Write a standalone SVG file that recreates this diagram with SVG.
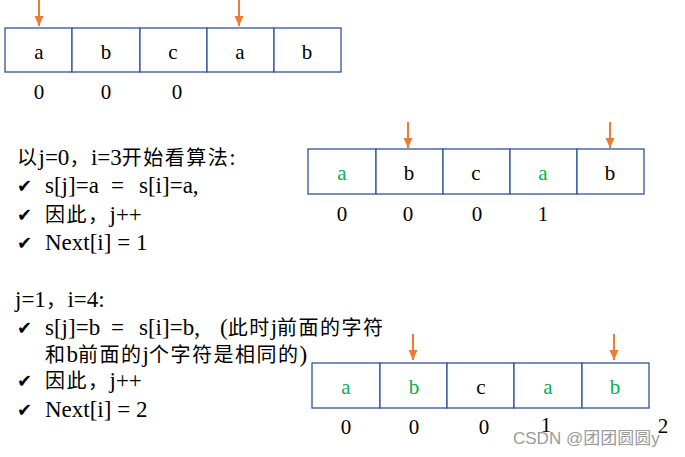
<svg xmlns="http://www.w3.org/2000/svg" width="685" height="457" viewBox="0 0 685 457">
<style>
.cell{fill:#fff;stroke:#2F5597;stroke-width:1.3}
.lt{font-family:"Liberation Serif","Times New Roman","Noto Sans CJK SC",serif;font-size:21px;text-anchor:middle;fill:#000}
.g{fill:#00B050}
.num{font-family:"Liberation Serif","Times New Roman",serif;font-size:21px;text-anchor:middle;fill:#000}
.tx{font-family:"Liberation Serif","Times New Roman","Noto Sans CJK SC",serif;font-size:23px;fill:#000}
.cj{font-family:"Noto Sans CJK SC","Liberation Serif",sans-serif;font-size:20px;letter-spacing:1.5px}
.ck{font-family:"DejaVu Sans",sans-serif;font-size:18px;fill:#000}
.arr{stroke:#ED7D31;stroke-width:2;fill:none}
.wm{font-family:"Liberation Sans","Noto Sans CJK SC",sans-serif;font-size:17px;fill:#8a8a8a;opacity:0.85}
</style>
<defs>
<marker id="ah" markerUnits="userSpaceOnUse" markerWidth="10" markerHeight="10" refX="10" refY="5" orient="auto" viewBox="0 0 10 10">
<path d="M0,0.5 L10,5 L0,9.5 Z" fill="#ED7D31"/>
</marker>
</defs>

<g id="table1">
<rect class="cell" x="5" y="28" width="67" height="44"/>
<rect class="cell" x="72" y="28" width="68" height="44"/>
<rect class="cell" x="140" y="28" width="67" height="44"/>
<rect class="cell" x="207" y="28" width="67" height="44"/>
<rect class="cell" x="274" y="28" width="67" height="44"/>
<text class="lt" x="39" y="59">a</text>
<text class="lt" x="106" y="59">b</text>
<text class="lt" x="173" y="59">c</text>
<text class="lt" x="240" y="59">a</text>
<text class="lt" x="307" y="59">b</text>
<text class="num" x="39" y="99">0</text>
<text class="num" x="106" y="99">0</text>
<text class="num" x="177" y="99">0</text>
</g>

<g id="table2">
<rect class="cell" x="308" y="149" width="68" height="45"/>
<rect class="cell" x="376" y="149" width="67" height="45"/>
<rect class="cell" x="443" y="149" width="67" height="45"/>
<rect class="cell" x="510" y="149" width="67" height="45"/>
<rect class="cell" x="577" y="149" width="67" height="45"/>
<text class="lt g" x="342" y="180">a</text>
<text class="lt" x="409" y="180">b</text>
<text class="lt" x="476" y="180">c</text>
<text class="lt g" x="543" y="180">a</text>
<text class="lt" x="610" y="180">b</text>
<text class="num" x="342" y="221">0</text>
<text class="num" x="408" y="221">0</text>
<text class="num" x="477" y="221">0</text>
<text class="num" x="543" y="221">1</text>
</g>

<g id="table3">
<rect class="cell" x="312" y="363" width="68" height="45"/>
<rect class="cell" x="380" y="363" width="67" height="45"/>
<rect class="cell" x="447" y="363" width="67" height="45"/>
<rect class="cell" x="514" y="363" width="68" height="45"/>
<rect class="cell" x="582" y="363" width="67" height="45"/>
<text class="lt g" x="346" y="394">a</text>
<text class="lt g" x="414" y="394">b</text>
<text class="lt" x="481" y="394">c</text>
<text class="lt g" x="548" y="394">a</text>
<text class="lt g" x="615" y="394">b</text>
<text class="num" x="346" y="434">0</text>
<text class="num" x="414" y="434">0</text>
<text class="num" x="484" y="434">0</text>
<text class="num" x="546" y="432">1</text>
<text class="num" x="663" y="433">2</text>
</g>

<g id="connectors">
<line class="arr" x1="39" y1="0" x2="39" y2="26" marker-end="url(#ah)"/>
<line class="arr" x1="239" y1="0" x2="239" y2="26" marker-end="url(#ah)"/>
<line class="arr" x1="408" y1="122" x2="408" y2="148" marker-end="url(#ah)"/>
<line class="arr" x1="610" y1="122" x2="610" y2="148" marker-end="url(#ah)"/>
<line class="arr" x1="413" y1="334" x2="413" y2="360" marker-end="url(#ah)"/>
<line class="arr" x1="614" y1="334" x2="614" y2="360" marker-end="url(#ah)"/>
</g>

<g id="block1">
<text class="tx" x="17" y="165"><tspan class="cj">以</tspan>j=0<tspan class="cj">，</tspan>i=3<tspan class="cj">开始看算法</tspan>:</text>
<text class="ck" x="17" y="192">✔</text>
<text class="tx" x="45" y="193">s[j]=a<tspan x="111">=</tspan><tspan x="139">s[i]=a,</tspan></text>
<text class="ck" x="17" y="221">✔</text>
<text class="tx" x="45" y="222"><tspan class="cj">因此，</tspan>j++</text>
<text class="ck" x="17" y="249">✔</text>
<text class="tx" x="45" y="250">Next[i] = 1</text>
</g>

<g id="block2">
<text class="tx" x="15" y="307">j=1<tspan class="cj">，</tspan>i=4:</text>
<text class="ck" x="17" y="334">✔</text>
<text class="tx" x="45" y="335">s[j]=b<tspan x="111">=</tspan><tspan x="139">s[i]=b,</tspan><tspan x="220">(</tspan><tspan class="cj">此时</tspan>j<tspan class="cj">前面的字符</tspan></text>
<text class="tx" x="45" y="362"><tspan class="cj">和</tspan>b<tspan class="cj">前面的</tspan>j<tspan class="cj">个字符是相同的</tspan>)</text>
<text class="ck" x="17" y="387">✔</text>
<text class="tx" x="45" y="388"><tspan class="cj">因此，</tspan>j++</text>
<text class="ck" x="17" y="416">✔</text>
<text class="tx" x="45" y="417">Next[i] = 2</text>
</g>

<text class="wm" x="513" y="444">CSDN @团团圆圆y</text>
</svg>
